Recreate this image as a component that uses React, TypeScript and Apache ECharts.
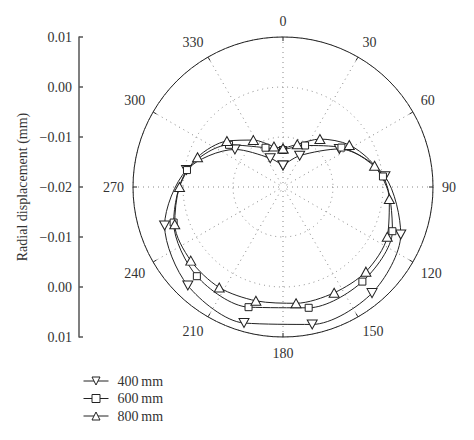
import React, { useEffect, useRef } from 'react';
import * as echarts from 'echarts';

// marker angles (deg, clockwise from top) and radial displacement (mm)
const angles400 = [0, 28, 56, 84, 112, 140, 168, 196, 224, 252, 280, 308, 336];
const disp400 = [-0.0157, -0.0129, -0.0064, 0.0005, 0.0054, 0.0077, 0.0081, 0.0083, 0.0074, 0.0049, -0.0004, -0.0078, -0.0137];

const angles600 = [0, 28, 56, 84, 112, 140, 168, 196, 224, 252, 280, 308, 336];
const disp600 = [-0.0126, -0.0106, -0.0059, 0.0001, 0.0036, 0.0047, 0.0047, 0.005, 0.0048, 0.003, -0.0005, -0.0063, -0.0114];

const angles800 = [0, 18.5, 37.6, 57.6, 76.9, 96.4, 115.5, 135.6, 154.2, 173.6, 193.4, 212.4, 231.4, 251, 270, 289.2, 309.3, 327.7, 347.4];
const disp800 = [-0.0123, -0.011, -0.0079, -0.0043, -0.0012, 0.0014, 0.0031, 0.0037, 0.0035, 0.0034, 0.0034, 0.0038, 0.0036, 0.0029, 0.0007, -0.0019, -0.0055, -0.0089, -0.0117];

const seriesNames = ['400\u2009mm', '600\u2009mm', '800\u2009mm'];

// labels of the left radial scale, top to bottom
const radialTickLabels = ['0.01', '0.00', '\u22120.01', '\u22120.02', '\u22120.01', '0.00', '0.01'];

const FONT = "'Liberation Serif', 'DejaVu Serif', serif";
const INK = '#222';

const closeLoop = (angles: number[], disp: number[]) => {
  const pts = angles.map((a, i) => [disp[i], a]);
  pts.push([disp[0], 360]);
  return pts;
};

const App: React.FC = () => {
  const chartRef = useRef<HTMLDivElement>(null);

  useEffect(() => {
    if (!chartRef.current) return;
    const chart = echarts.init(chartRef.current, undefined, { renderer: 'svg' });

    const lineSeries = (name: string, data: number[][], symbol: string, size: number | number[]) => ({
      name,
      type: 'line',
      coordinateSystem: 'polar',
      smooth: 0.3,
      data,
      symbol,
      symbolSize: size,
      showAllSymbol: true,
      lineStyle: { color: INK, width: 1 },
      itemStyle: { color: '#fff', borderColor: INK, borderWidth: 1 },
      emphasis: { disabled: true }
    });

    chart.setOption({
      animation: false,
      textStyle: { fontFamily: FONT },
      grid: { left: 79, top: 37, width: 1, height: 300 },
      xAxis: { type: 'value', show: false },
      yAxis: {
        type: 'value',
        min: -3,
        max: 3,
        interval: 1,
        name: 'Radial displacement (mm)',
        nameLocation: 'middle',
        nameGap: 50,
        nameTextStyle: { fontFamily: FONT, fontSize: 14, color: '#333' },
        axisLine: { show: true, lineStyle: { color: '#555', width: 1.5 } },
        axisTick: { show: true, inside: true, length: 4, lineStyle: { color: '#555', width: 1.5 } },
        axisLabel: {
          fontFamily: FONT,
          fontSize: 14,
          color: '#333',
          margin: 7,
          formatter: (v: number) => radialTickLabels[3 - Math.round(v)]
        },
        splitLine: { show: false }
      },
      polar: { center: [283, 187], radius: 150 },
      angleAxis: {
        type: 'value',
        min: 0,
        max: 360,
        interval: 30,
        startAngle: 90,
        clockwise: true,
        axisLine: { lineStyle: { color: INK, width: 1 } },
        axisTick: { inside: true, length: 4, lineStyle: { color: INK } },
        axisLabel: {
          fontFamily: FONT,
          fontSize: 14,
          color: '#333',
          margin: 9,
          formatter: (v: number) => (v === 360 ? '' : String(v))
        },
        splitLine: { show: true, lineStyle: { color: '#888', type: [1, 4], width: 1 } }
      },
      radiusAxis: {
        type: 'value',
        min: -0.02,
        max: 0.01,
        interval: 0.01,
        axisLine: { show: false },
        axisTick: { show: false },
        axisLabel: { show: false },
        splitLine: { show: true, lineStyle: { color: '#888', type: [1, 4], width: 1 } }
      },
      legend: {
        orient: 'vertical',
        left: 78,
        top: 369,
        itemWidth: 25,
        itemHeight: 10,
        itemGap: 3.5,
        data: seriesNames,
        lineStyle: { width: 1, color: INK },
        itemStyle: { color: '#fff', borderColor: INK, borderWidth: 1 },
        textStyle: { fontFamily: FONT, fontSize: 14, color: '#333', lineHeight: 14, padding: [0, 0, 0, 4] }
      },
      series: [
        lineSeries(seriesNames[0], closeLoop(angles400, disp400), 'path://M0,0 L10,0 L5,9 Z', [10, 9]),
        lineSeries(seriesNames[1], closeLoop(angles600, disp600), 'rect', 7),
        lineSeries(seriesNames[2], closeLoop(angles800, disp800), 'triangle', [10, 9])
      ]
    });

    return () => {
      chart.dispose();
    };
  }, []);

  return (
    <div
      ref={chartRef}
      style={{ position: 'fixed', left: 0, top: 0, width: '474px', height: '440px', background: '#fff' }}
    />
  );
};

export default App;
